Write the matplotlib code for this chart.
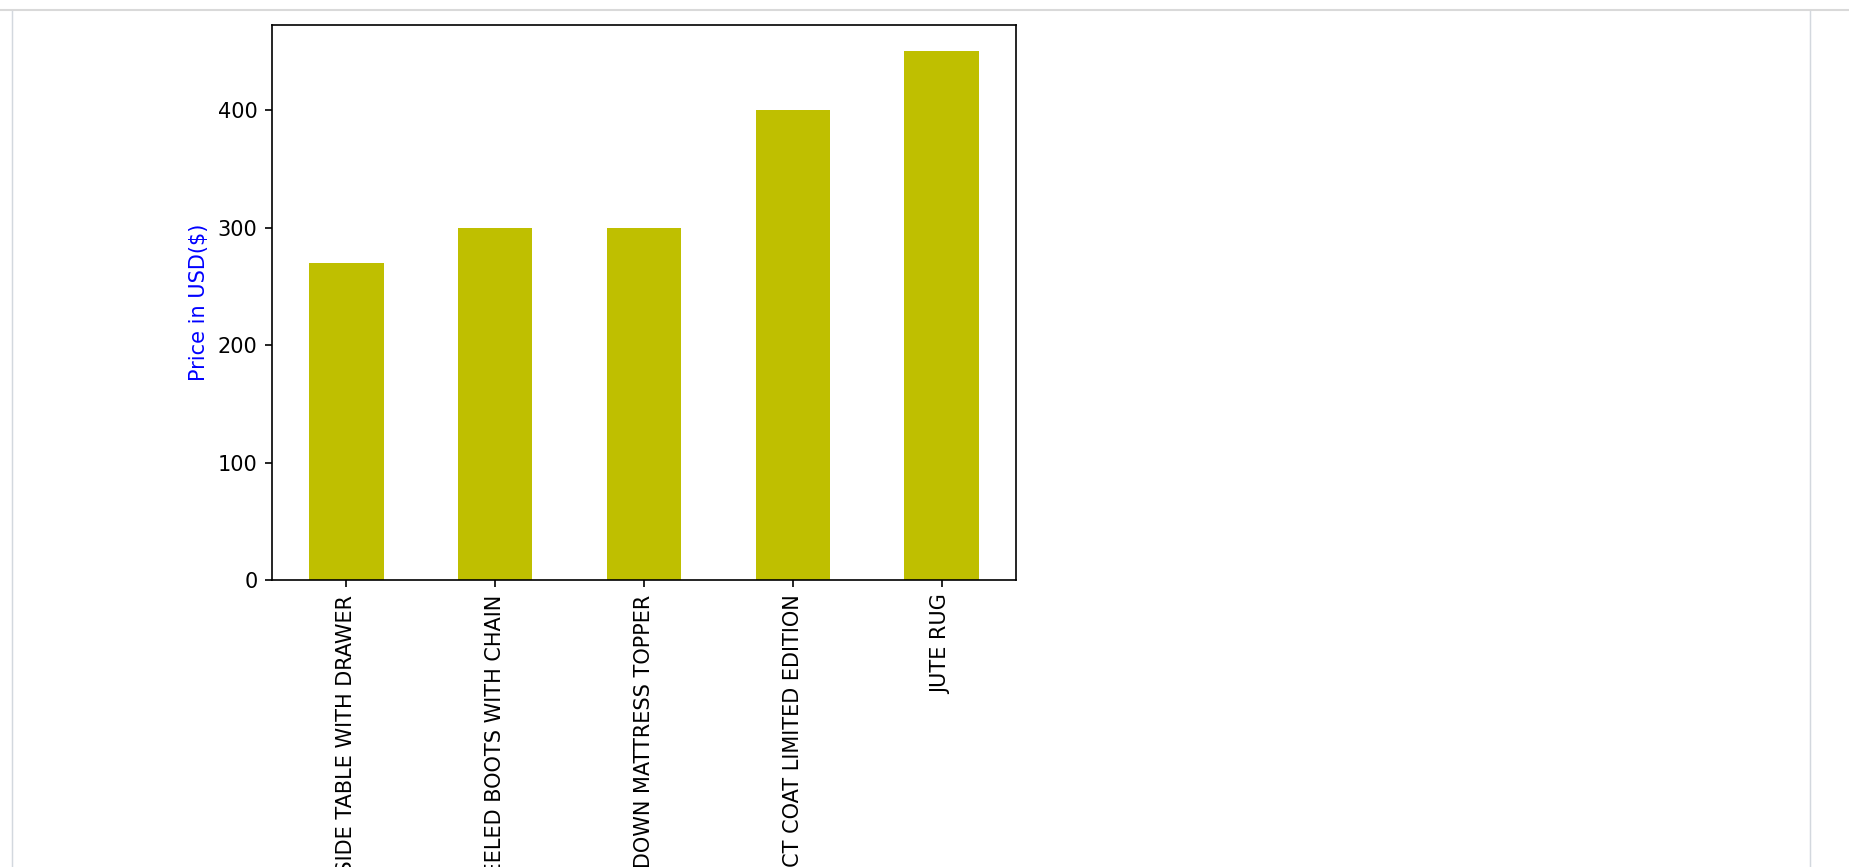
import matplotlib
matplotlib.use("Agg")
import matplotlib.pyplot as plt
from matplotlib.lines import Line2D

# DATA
products = [
    "BEDSIDE TABLE WITH DRAWER",
    "HEELED BOOTS WITH CHAIN",
    "GOOSE DOWN MATTRESS TOPPER",
    "PERFECT COAT LIMITED EDITION",
    "JUTE RUG",
]
prices = [270, 300, 300, 400, 450]

# FIGURE (1849x867 px screenshot, chart drawn at 150 dpi)
W, H, DPI = 1849, 867, 150
fig = plt.figure(figsize=(W / DPI, H / DPI), dpi=DPI)

# notebook cell border
fig.add_artist(Line2D([0, 1], [1 - 10 / H, 1 - 10 / H], transform=fig.transFigure,
                      color="#d9d9d9", linewidth=1.0))
for xpix in (12, 1810):
    fig.add_artist(Line2D([xpix / W, xpix / W], [0, 1 - 11 / H], transform=fig.transFigure,
                          color="#d3d8de", linewidth=0.7))

# AXES
ax = fig.add_axes([272 / W, (H - 580) / H, 744 / W, 555 / H])
x = range(len(products))
ax.bar(x, prices, width=0.5, color="y")
ax.set_xlim(-0.5, len(products) - 0.5)
ax.set_ylim(0, max(prices) * 1.05)
ax.set_xticks(list(x))
ax.set_xticklabels(products, rotation=90)
ax.set_ylabel("Price in USD($)", color="b")

fig.savefig("out.png", dpi=DPI)
